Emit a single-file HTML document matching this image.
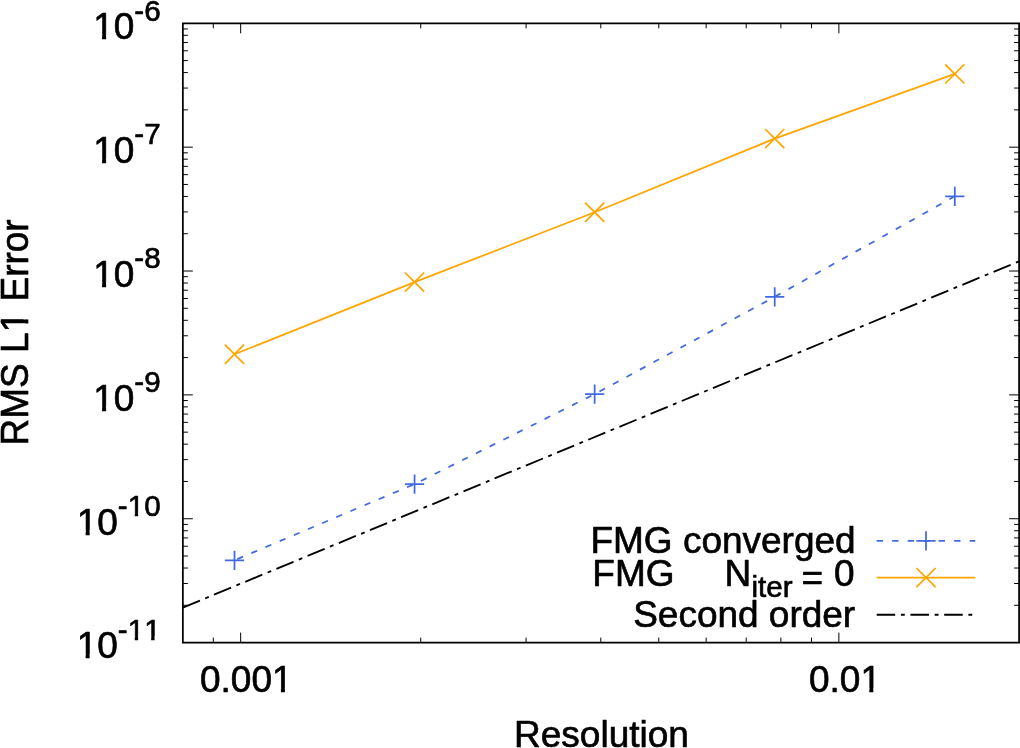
<!DOCTYPE html>
<html lang="en"><head><meta charset="utf-8"><title>RMS L1 Error vs Resolution</title>
<style>html,body{margin:0;padding:0;background:#fff;}body{width:1020px;height:748px;overflow:hidden;}svg{display:block;}text{font-family:"Liberation Sans",Arial,Helvetica,sans-serif;fill:#000;stroke:#000;stroke-width:0.65px;font-kerning:none;stroke-linejoin:round;}</style></head><body>
<svg width="1020" height="748" viewBox="0 0 1020 748">
<rect x="0" y="0" width="1020" height="748" fill="#fff"/>
<path d="M182.85 605.31h5.00M1019.10 605.31h-5.00M182.85 583.50h5.00M1019.10 583.50h-5.00M182.85 568.03h5.00M1019.10 568.03h-5.00M182.85 556.03h5.00M1019.10 556.03h-5.00M182.85 546.22h5.00M1019.10 546.22h-5.00M182.85 537.93h5.00M1019.10 537.93h-5.00M182.85 530.74h5.00M1019.10 530.74h-5.00M182.85 524.41h5.00M1019.10 524.41h-5.00M182.85 518.74h10.00M1019.10 518.74h-10.00M182.85 481.45h5.00M1019.10 481.45h-5.00M182.85 459.64h5.00M1019.10 459.64h-5.00M182.85 444.17h5.00M1019.10 444.17h-5.00M182.85 432.17h5.00M1019.10 432.17h-5.00M182.85 422.36h5.00M1019.10 422.36h-5.00M182.85 414.07h5.00M1019.10 414.07h-5.00M182.85 406.88h5.00M1019.10 406.88h-5.00M182.85 400.55h5.00M1019.10 400.55h-5.00M182.85 394.88h10.00M1019.10 394.88h-10.00M182.85 357.59h5.00M1019.10 357.59h-5.00M182.85 335.78h5.00M1019.10 335.78h-5.00M182.85 320.31h5.00M1019.10 320.31h-5.00M182.85 308.31h5.00M1019.10 308.31h-5.00M182.85 298.50h5.00M1019.10 298.50h-5.00M182.85 290.21h5.00M1019.10 290.21h-5.00M182.85 283.02h5.00M1019.10 283.02h-5.00M182.85 276.69h5.00M1019.10 276.69h-5.00M182.85 271.02h10.00M1019.10 271.02h-10.00M182.85 233.73h5.00M1019.10 233.73h-5.00M182.85 211.92h5.00M1019.10 211.92h-5.00M182.85 196.45h5.00M1019.10 196.45h-5.00M182.85 184.45h5.00M1019.10 184.45h-5.00M182.85 174.64h5.00M1019.10 174.64h-5.00M182.85 166.35h5.00M1019.10 166.35h-5.00M182.85 159.16h5.00M1019.10 159.16h-5.00M182.85 152.83h5.00M1019.10 152.83h-5.00M182.85 147.16h10.00M1019.10 147.16h-10.00M182.85 109.87h5.00M1019.10 109.87h-5.00M182.85 88.06h5.00M1019.10 88.06h-5.00M182.85 72.59h5.00M1019.10 72.59h-5.00M182.85 60.59h5.00M1019.10 60.59h-5.00M182.85 50.78h5.00M1019.10 50.78h-5.00M182.85 42.49h5.00M1019.10 42.49h-5.00M182.85 35.30h5.00M1019.10 35.30h-5.00M182.85 28.97h5.00M1019.10 28.97h-5.00M213.29 642.60v-5.00M213.29 23.30v5.00M240.66 642.60v-10.00M240.66 23.30v10.00M420.74 642.60v-5.00M420.74 23.30v5.00M526.07 642.60v-5.00M526.07 23.30v5.00M600.81 642.60v-5.00M600.81 23.30v5.00M658.78 642.60v-5.00M658.78 23.30v5.00M706.15 642.60v-5.00M706.15 23.30v5.00M746.20 642.60v-5.00M746.20 23.30v5.00M780.89 642.60v-5.00M780.89 23.30v5.00M811.49 642.60v-5.00M811.49 23.30v5.00M838.86 642.60v-10.00M838.86 23.30v10.00" fill="none" stroke="#000" stroke-width="1.0"/>
<path d="M182.85 607.60L1019.10 261.30" fill="none" stroke="#000" stroke-width="1.85" stroke-dasharray="18.5 5.7 3.85 5.7"/>
<polyline points="234.50,560.30 414.57,484.10 594.65,394.10 774.73,296.80 954.80,196.30" fill="none" stroke="#4169E1" stroke-width="1.75" stroke-dasharray="6.3 9.057" stroke-dashoffset="12.36"/>
<path d="M224.90 560.30h19.20M234.50 550.70v19.20M404.97 484.10h19.20M414.57 474.50v19.20M585.05 394.10h19.20M594.65 384.50v19.20M765.13 296.80h19.20M774.73 287.20v19.20M945.20 196.30h19.20M954.80 186.70v19.20" fill="none" stroke="#4169E1" stroke-width="1.75"/>
<polyline points="234.50,354.30 414.57,282.10 594.65,212.30 774.73,138.60 954.80,73.90" fill="none" stroke="#FFA500" stroke-width="1.75"/>
<path d="M224.90 344.70l19.20 19.20M224.90 363.90l19.20 -19.20M404.97 272.50l19.20 19.20M404.97 291.70l19.20 -19.20M585.05 202.70l19.20 19.20M585.05 221.90l19.20 -19.20M765.13 129.00l19.20 19.20M765.13 148.20l19.20 -19.20M945.20 64.30l19.20 19.20M945.20 83.50l19.20 -19.20" fill="none" stroke="#FFA500" stroke-width="1.75"/>
<path d="M876.7 540.9H975.3" stroke="#4169E1" stroke-width="1.75" stroke-dasharray="6.3 9.2" fill="none"/>
<path d="M916.40 540.90h19.20M926.00 531.30v19.20" stroke="#4169E1" stroke-width="1.75" fill="none"/>
<path d="M876.7 577.6H975.3" stroke="#FFA500" stroke-width="1.75" fill="none"/>
<path d="M916.40 568.00l19.20 19.20M916.40 587.20l19.20 -19.20" stroke="#FFA500" stroke-width="1.75" fill="none"/>
<path d="M876.7 614.7H975.3" stroke="#000" stroke-width="1.85" stroke-dasharray="18.5 5.7 3.85 5.7" fill="none"/>
<path d="M182.85 23.30H1019.10V642.60H182.85Z" fill="none" stroke="#000" stroke-width="1.75" stroke-linejoin="miter"/>
<g transform="translate(160.60 39.10) scale(1 1.022)"><text text-anchor="end" font-size="37.0">10<tspan font-size="29.6" dy="-18.1">-6</tspan></text><rect x="-65.92" y="-4.16" width="7.39" height="6.36" fill="#fff"/><rect x="-54.47" y="-4.16" width="7.10" height="6.36" fill="#fff"/></g>
<g transform="translate(160.60 162.96) scale(1 1.022)"><text text-anchor="end" font-size="37.0">10<tspan font-size="29.6" dy="-18.1">-7</tspan></text><rect x="-65.92" y="-4.16" width="7.39" height="6.36" fill="#fff"/><rect x="-54.47" y="-4.16" width="7.10" height="6.36" fill="#fff"/></g>
<g transform="translate(160.60 286.82) scale(1 1.022)"><text text-anchor="end" font-size="37.0">10<tspan font-size="29.6" dy="-18.1">-8</tspan></text><rect x="-65.92" y="-4.16" width="7.39" height="6.36" fill="#fff"/><rect x="-54.47" y="-4.16" width="7.10" height="6.36" fill="#fff"/></g>
<g transform="translate(160.60 410.68) scale(1 1.022)"><text text-anchor="end" font-size="37.0">10<tspan font-size="29.6" dy="-18.1">-9</tspan></text><rect x="-65.92" y="-4.16" width="7.39" height="6.36" fill="#fff"/><rect x="-54.47" y="-4.16" width="7.10" height="6.36" fill="#fff"/></g>
<g transform="translate(160.60 534.54) scale(1 1.022)"><text text-anchor="end" font-size="37.0">10<tspan font-size="29.6" dy="-18.1">-10</tspan></text><rect x="-82.38" y="-4.16" width="7.39" height="6.36" fill="#fff"/><rect x="-70.93" y="-4.16" width="7.10" height="6.36" fill="#fff"/><rect x="-31.96" y="-21.71" width="6.09" height="5.81" fill="#fff"/><rect x="-22.46" y="-21.71" width="5.86" height="5.81" fill="#fff"/></g>
<g transform="translate(160.60 658.40) scale(1 1.022)"><text text-anchor="end" font-size="37.0">10<tspan font-size="29.6" dy="-18.1">-11</tspan></text><rect x="-82.38" y="-4.16" width="7.39" height="6.36" fill="#fff"/><rect x="-70.93" y="-4.16" width="7.10" height="6.36" fill="#fff"/><rect x="-31.96" y="-21.71" width="6.09" height="5.81" fill="#fff"/><rect x="-22.46" y="-21.71" width="5.86" height="5.81" fill="#fff"/><rect x="-15.52" y="-21.71" width="6.09" height="5.81" fill="#fff"/><rect x="-6.02" y="-21.71" width="5.86" height="5.81" fill="#fff"/></g>
<g transform="translate(200.00 692.30) scale(1 1.022)"><text font-size="37.0">0.001</text><rect x="73.49" y="-4.16" width="7.39" height="6.36" fill="#fff"/><rect x="84.94" y="-4.16" width="7.10" height="6.36" fill="#fff"/></g>
<g transform="translate(809.00 692.30) scale(1 1.022)"><text font-size="37.0">0.01</text><rect x="52.92" y="-4.16" width="7.39" height="6.36" fill="#fff"/><rect x="64.37" y="-4.16" width="7.10" height="6.36" fill="#fff"/></g>
<g transform="translate(514.10 747.30) scale(1 1.022)"><text font-size="37.0">Resolution</text></g>
<g transform="translate(27.75 445.40) rotate(-90) scale(1 1.04)"><text font-size="37.0">RMS L1 Error</text><rect x="114.54" y="-4.16" width="7.39" height="6.36" fill="#fff"/><rect x="125.99" y="-4.16" width="7.10" height="6.36" fill="#fff"/></g>
<g transform="translate(855.60 552.70) scale(1 1.022)"><text text-anchor="end" font-size="37.0">FMG converged</text></g>
<g transform="translate(592.30 586.20) scale(1 1.022)"><text font-size="37.0">FMG</text></g>
<g transform="translate(724.50 586.30) scale(1 1.022)"><text font-size="37.0">N</text></g>
<g transform="translate(751.50 597.10) scale(1 1.022)"><text font-size="29.6">iter</text></g>
<g transform="translate(801.50 589.70) scale(1 1.022)"><text font-size="37.0">=</text></g>
<g transform="translate(834.00 586.40) scale(1 1.022)"><text font-size="37.0">0</text></g>
<g transform="translate(855.20 626.80) scale(1 1.022)"><text text-anchor="end" font-size="37.0">Second order</text></g>
</svg></body></html>
